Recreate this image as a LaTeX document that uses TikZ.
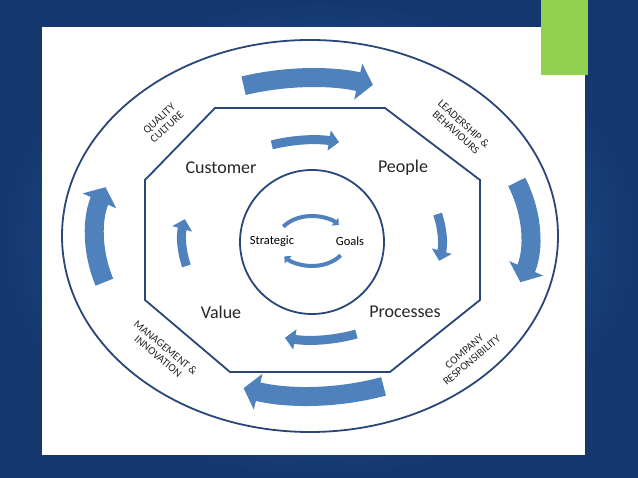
\documentclass[tikz,border=0pt]{standalone}
\usepackage{fontspec}
\setmainfont{Carlito}
\usetikzlibrary{arrows.meta,shapes.geometric}
\definecolor{ab}{RGB}{79,129,189}
\definecolor{oc}{RGB}{40,70,120}
\definecolor{gr}{RGB}{146,208,80}
\tikzset{
 big/.style={ab,line width=19pt,-{Triangle[length=15pt,width=36pt]}},
 mid/.style={ab,line width=9pt,-{Triangle[length=10pt,width=20pt]}},
 sml/.style={ab,line width=4pt,-{Triangle[length=5pt,width=10pt]}},
 lbl/.style={font=\fontsize{18}{20}\selectfont,text=black!85},
 ring/.style={font=\fontsize{11}{11.5}\selectfont,align=center,text=black!85}
}
\begin{document}
\begin{tikzpicture}[x=1pt,y=1pt]
\useasboundingbox (0,0) rectangle (638,478);
\shade[inner color={rgb,255:red,45;green,120;blue,180},outer color={rgb,255:red,20;green,55;blue,110}] (0,0) rectangle (638,478);
\fill[white] (42,23) rectangle (585,451);
\fill[gr] (541,403) rectangle (588,478);
\draw[oc,line width=1.8pt] (310,242) ellipse[x radius=248,y radius=196];
\draw[oc,line width=1.8pt] (215,370)--(385,370)--(480,298)--(480,178)--(390,106)--(230,106)--(145,178)--(145,298)--cycle;
\draw[oc,line width=1.8pt] (312,236) circle[radius=72];
% outer arrows
\draw[big] ([shift={(108:215 and 158)}]310,242) arc[start angle=108,end angle=73,x radius=215,y radius=158];
\draw[big] ([shift={(20:220 and 158)}]310,242) arc[start angle=20,end angle=-17,x radius=220,y radius=158];
\draw[big] ([shift={(-70:215 and 160)}]310,242) arc[start angle=-70,end angle=-108,x radius=215,y radius=160];
\draw[big] ([shift={(197:215 and 158)}]310,242) arc[start angle=197,end angle=162,x radius=215,y radius=158];
% inner arrows
\draw[mid] ([shift={(108:130 and 100)}]312,238) arc[start angle=108,end angle=78,x radius=130,y radius=100];
\draw[mid] ([shift={(15:130 and 100)}]312,238) arc[start angle=15,end angle=-12,x radius=130,y radius=100];
\draw[mid] ([shift={(-70:130 and 100)}]312,238) arc[start angle=-70,end angle=-102,x radius=130,y radius=100];
\draw[mid] ([shift={(195:130 and 100)}]312,238) arc[start angle=195,end angle=168,x radius=130,y radius=100];
% center arrows
\draw[sml] ([shift={(145:35 and 25)}]312,237) arc[start angle=145,end angle=40,x radius=35,y radius=25];
\draw[sml] ([shift={(-35:35 and 25)}]312,237) arc[start angle=-35,end angle=-142,x radius=35,y radius=25];
\node[lbl] (cu) at (221,310) {Customer};
\node[lbl] (pe) at (403,310) {People};
\node[lbl] (va) at (221,166) {Value};
\node[lbl] (pr) at (405,166) {Processes};
\node[font=\fontsize{12.5}{14}\selectfont] (st) at (272,237) {Strategic};
\node[font=\fontsize{12.5}{14}\selectfont] (go) at (350,237) {Goals};
\node[ring,rotate=42] (q) at (163,355) {QUALITY\\CULTURE};
\node[ring,rotate=-42] (l) at (460,350) {LEADERSHIP \&\\BEHAVIOURS};
\node[ring,rotate=-40] (m) at (162,126) {MANAGEMENT \&\\INNOVATION};
\node[ring,rotate=40] (c) at (468,122) {COMPANY\\RESPONSIBILITY};
\end{tikzpicture}
\end{document}
